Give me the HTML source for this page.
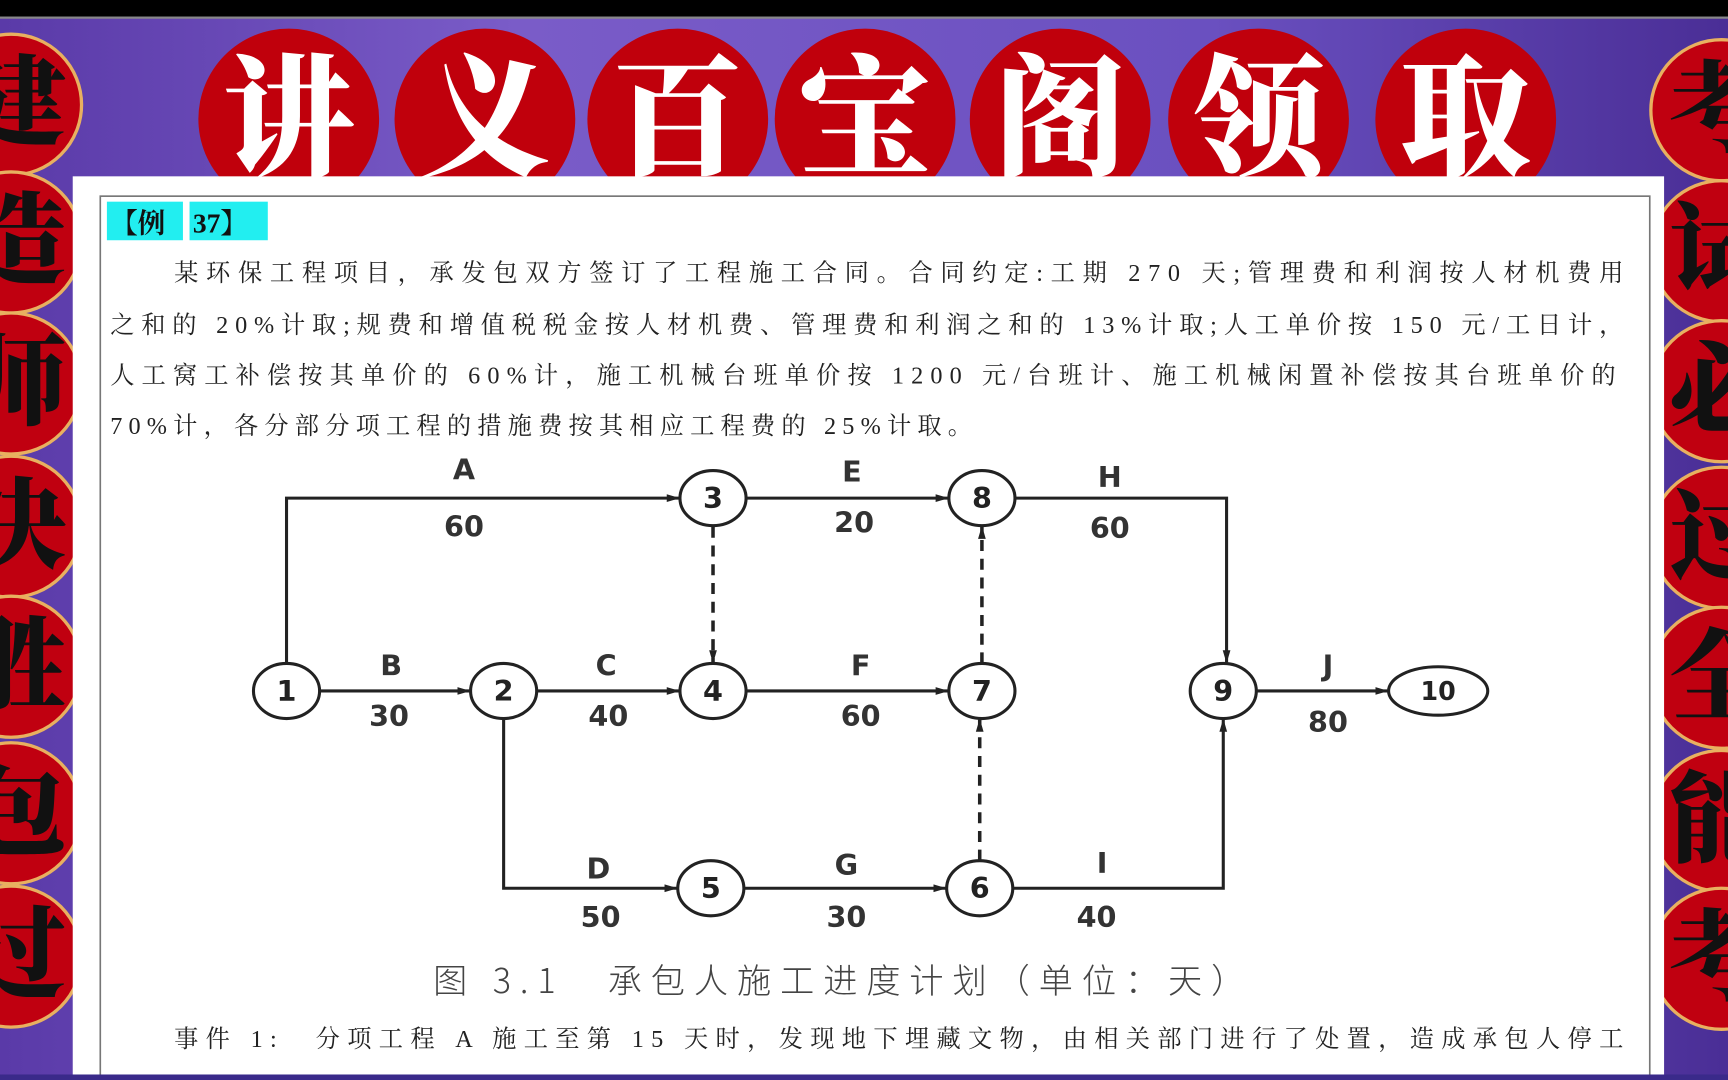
<!DOCTYPE html>
<html><head><meta charset="utf-8"><style>
html,body{margin:0;padding:0;width:1728px;height:1080px;overflow:hidden;background:#000}
svg{display:block}
.t{font-family:"Liberation Serif","Noto Serif CJK SC",serif;font-size:22px;fill:#222}
.d{font-family:"DejaVu Sans","Liberation Sans",sans-serif;font-size:26px;font-weight:bold;fill:#333;text-anchor:middle}
.c{font-family:"DejaVu Sans","Liberation Sans",sans-serif;font-size:26px;font-weight:bold;fill:#222;text-anchor:middle;dominant-baseline:central}
.cal{font-family:"Noto Serif CJK SC","WenQuanYi Zen Hei",serif;font-weight:900;text-anchor:middle}
</style></head><body>
<svg width="1728" height="1080" viewBox="0 0 1568 980" preserveAspectRatio="none" xmlns="http://www.w3.org/2000/svg">
<defs>
<linearGradient id="bg" x1="0" y1="0" x2="1" y2="0">
<stop offset="0" stop-color="#5a3aa8"/><stop offset="0.3" stop-color="#7a5cc8"/><stop offset="0.7" stop-color="#6a50c0"/><stop offset="1" stop-color="#4a2e96"/></linearGradient>
<marker id="ar" markerWidth="12" markerHeight="10" refX="11" refY="5" orient="auto" markerUnits="userSpaceOnUse"><path d="M0,1.5 L12,5 L0,8.5z" fill="#222"/></marker>
</defs>
<rect x="0" y="0" width="1568" height="980" fill="url(#bg)"/>
<rect x="0" y="0" width="1568" height="15" fill="#000"/>
<rect x="0" y="15" width="1568" height="2" fill="#888"/>
<g fill="#c00010" stroke="#e8b060" stroke-width="3">
<circle cx="10" cy="95" r="64"/><circle cx="10" cy="220" r="64"/><circle cx="10" cy="348" r="64"/><circle cx="10" cy="478" r="64"/><circle cx="10" cy="605" r="64"/><circle cx="10" cy="738" r="64"/><circle cx="10" cy="868" r="64"/>
<circle cx="1562" cy="100" r="64"/><circle cx="1562" cy="228" r="64"/><circle cx="1562" cy="355" r="64"/><circle cx="1562" cy="488" r="64"/><circle cx="1562" cy="615" r="64"/><circle cx="1562" cy="745" r="64"/><circle cx="1562" cy="870" r="64"/>
</g>
<g class="cal" font-size="90" fill="#111">
<text x="15" y="125">建</text><text x="15" y="250">造</text><text x="15" y="378">师</text><text x="15" y="508">决</text><text x="15" y="635">胜</text><text x="15" y="768">包</text><text x="15" y="898">过</text>
<text x="1560" y="130">考</text><text x="1560" y="258">试</text><text x="1560" y="385">必</text><text x="1560" y="518">过</text><text x="1560" y="645">全</text><text x="1560" y="775">能</text><text x="1560" y="900">考</text>
</g>
<g fill="#c0000c">
<circle cx="262" cy="108" r="82"/><circle cx="440" cy="108" r="82"/><circle cx="615" cy="108" r="82"/><circle cx="785" cy="108" r="82"/><circle cx="962" cy="108" r="82"/><circle cx="1142" cy="108" r="82"/><circle cx="1330" cy="108" r="82"/>
</g>
<g class="cal" font-size="120" fill="#fff">
<text x="262" y="150">讲</text><text x="440" y="150">义</text><text x="615" y="150">百</text><text x="785" y="150">宝</text><text x="962" y="150">阁</text><text x="1142" y="150">领</text><text x="1330" y="150">取</text>
</g>
<rect x="66" y="160" width="1444" height="820" fill="#fff"/>
<rect x="91" y="178" width="1406" height="810" fill="none" stroke="#777" stroke-width="1.5"/>
<rect x="97" y="183" width="69" height="35" fill="#22eef0"/><rect x="172" y="183" width="71" height="35" fill="#22eef0"/>
<text x="100" y="211" font-family="Liberation Serif,'Noto Serif CJK SC',serif" font-size="25" font-weight="bold" fill="#111">【例</text>
<text x="175" y="211" font-family="Liberation Serif,'Noto Serif CJK SC',serif" font-size="25" font-weight="bold" fill="#111">37】</text>
<text class="t" x="158" y="255" textLength="1315" lengthAdjust="spacing">某环保工程项目，承发包双方签订了工程施工合同。合同约定:工期 270 天;管理费和利润按人材机费用</text>
<text class="t" x="100" y="302" textLength="1373" lengthAdjust="spacing">之和的 20%计取;规费和增值税税金按人材机费、管理费和利润之和的 13%计取;人工单价按 150 元/工日计，</text>
<text class="t" x="100" y="348" textLength="1366" lengthAdjust="spacing">人工窝工补偿按其单价的 60%计，施工机械台班单价按 1200 元/台班计、施工机械闲置补偿按其台班单价的</text>
<text class="t" x="100" y="394" textLength="782" lengthAdjust="spacing">70%计，各分部分项工程的措施费按其相应工程费的 25%计取。</text>
<g stroke="#222" stroke-width="2.8" fill="none" marker-end="url(#ar)">
<path d="M260,602 V452 H616"/>
<path d="M290,627 H426"/><path d="M487,627 H616"/><path d="M677,627 H860"/>
<path d="M457,652 V806 H614"/><path d="M675,806 H858"/>
<path d="M919,806 H1110 V653"/>
<path d="M921,452 H1113 V601"/>
<path d="M677,452 H860"/>
<path d="M1140,627 H1259"/>
</g>
<g stroke="#222" stroke-width="3.2" fill="none" stroke-dasharray="10,7" marker-end="url(#ar)">
<path d="M647,478 V601"/><path d="M891,602 V478"/><path d="M889,781 V653"/>
</g>
<g stroke="#222" stroke-width="2.8" fill="#fff">
<ellipse cx="260" cy="627" rx="30" ry="25"/><ellipse cx="457" cy="627" rx="30" ry="25"/><ellipse cx="647" cy="627" rx="30" ry="25"/><ellipse cx="647" cy="452" rx="30" ry="25"/><ellipse cx="891" cy="452" rx="30" ry="25"/><ellipse cx="891" cy="627" rx="30" ry="25"/><ellipse cx="889" cy="806" rx="30" ry="25"/><ellipse cx="645" cy="806" rx="30" ry="25"/><ellipse cx="1110" cy="627" rx="30" ry="25"/><ellipse cx="1305" cy="627" rx="45" ry="22"/>
</g>
<g class="c">
<text x="260" y="627">1</text><text x="457" y="627">2</text><text x="647" y="452">3</text><text x="647" y="627">4</text><text x="645" y="806">5</text><text x="889" y="806">6</text><text x="891" y="627">7</text><text x="891" y="452">8</text><text x="1110" y="627">9</text><text x="1305" y="627" font-size="23">10</text>
</g>
<g class="d">
<text x="421" y="435">A</text><text x="421" y="487">60</text>
<text x="773" y="437">E</text><text x="775" y="483">20</text>
<text x="1007" y="442">H</text><text x="1007" y="488">60</text>
<text x="355" y="613">B</text><text x="353" y="659">30</text>
<text x="550" y="613">C</text><text x="552" y="659">40</text>
<text x="781" y="613">F</text><text x="781" y="659">60</text>
<text x="1205" y="613">J</text><text x="1205" y="664">80</text>
<text x="543" y="797">D</text><text x="545" y="841">50</text>
<text x="768" y="794">G</text><text x="768" y="841">30</text>
<text x="1000" y="792">I</text><text x="995" y="841">40</text>
</g>
<text x="393" y="901" font-family="'Noto Sans CJK SC',sans-serif" font-size="31" font-weight="300" fill="#444" textLength="737" lengthAdjust="spacing">图 3.1　承包人施工进度计划（单位：天）</text>
<text class="t" x="158" y="950" textLength="1315" lengthAdjust="spacing">事件 1:　分项工程 A 施工至第 15 天时，发现地下埋藏文物，由相关部门进行了处置，造成承包人停工</text>
<rect x="0" y="975" width="1568" height="5" fill="#3a2a8a"/>
</svg>
</body></html>
